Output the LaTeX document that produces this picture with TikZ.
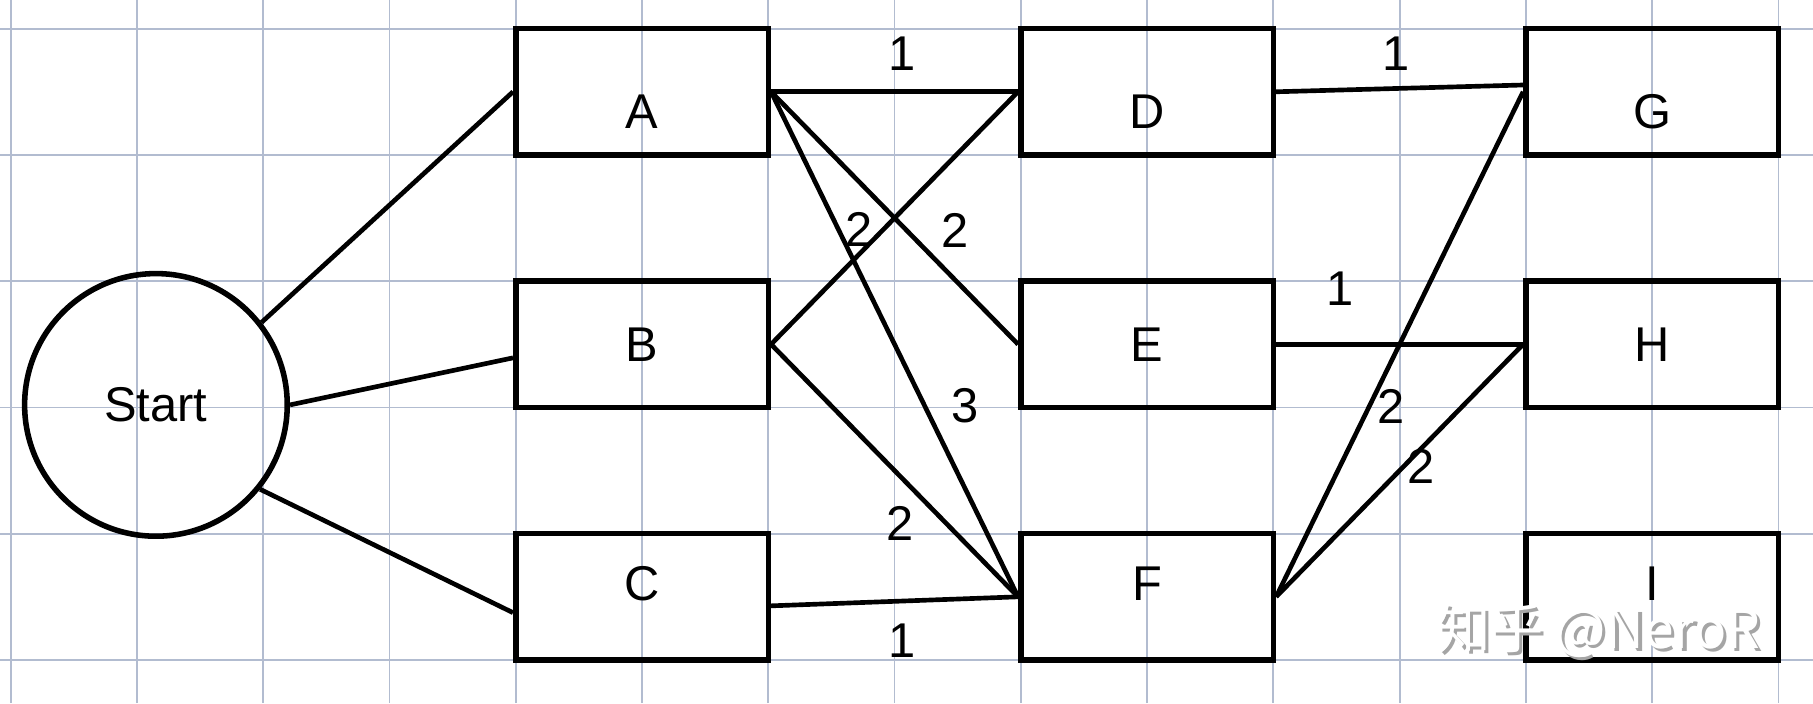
\documentclass[tikz,border=0pt]{standalone}
\usepackage{fontspec}
\setmainfont{Liberation Sans}
\newfontfamily\cjkfont{Noto Sans CJK SC}
\definecolor{gridblue}{RGB}{178,188,208}
\definecolor{markgray}{RGB}{165,165,165}
\begin{document}
\begin{tikzpicture}[
    font=\fontsize{11}{13}\selectfont,
    gridline/.style={gridblue, line width=0.4pt},
    box/.style={draw, line width=1.25pt, minimum width=2cm, minimum height=1cm, inner sep=0pt},
    toprow/.style={box, text height=0.58cm, text depth=0cm},
    midrow/.style={box, text height=0.28cm, text depth=0cm},
    botrow/.style={box, text height=0.28cm, text depth=0.22cm},
    edge/.style={line width=1.05pt},
    weight/.style={inner sep=0pt},
    watermark/.style={anchor=west, inner sep=0pt, font=\cjkfont\fontsize{12}{14}\selectfont}]
    \fill[white] (-0.085,-0.341) rectangle (14.274,5.227);
    \useasboundingbox (-0.085,-0.341) rectangle (14.274,5.227);
    \draw[gridline] (-0.085,-0.341) grid (14.274,5.227);
    \node[circle, draw, line width=1.25pt, minimum size=2.08cm, inner sep=0pt] (start) at (1.15,2.02) {Start};
    \node[toprow] (A) at (5,4.5) {A};
    \node[midrow] (B) at (5,2.5) {B};
    \node[botrow] (C) at (5,0.5) {C};
    \node[toprow] (D) at (9,4.5) {D};
    \node[midrow] (E) at (9,2.5) {E};
    \node[botrow] (F) at (9,0.5) {F};
    \node[toprow] (G) at (13,4.5) {G};
    \node[midrow] (H) at (13,2.5) {H};
    \node[botrow] (I) at (13,0.5) {I};
    \draw[edge] (start.38) -- (A.west);
    \draw[edge] (start.east) -- (B.186);
    \draw[edge] (start.-39) -- (C.187);
    \draw[edge] (A.east) -- (D.west);
    \draw[edge] (A.east) -- (E.west);
    \draw[edge] (A.east) -- (F.west);
    \draw[edge] (B.east) -- (D.west);
    \draw[edge] (B.east) -- (F.west);
    \draw[edge] (C.-4) -- (F.west);
    \draw[edge] (D.east) -- (G.177);
    \draw[edge] (E.east) -- (H.west);
    \draw[edge] (F.east) -- (G.west);
    \draw[edge] (F.east) -- (H.west);
    \node[weight] (wAD) at (7.06,4.80) {1};
    \node[weight] (wBD) at (6.72,3.41) {2};
    \node[weight] (wAE) at (7.48,3.40) {2};
    \node[weight] (wAF) at (7.56,2.01) {3};
    \node[weight] (wBF) at (7.04,1.08) {2};
    \node[weight] (wCF) at (7.06,0.15) {1};
    \node[weight] (wDG) at (10.97,4.80) {1};
    \node[weight] (wEH) at (10.53,2.94) {1};
    \node[weight] (wFG) at (10.93,2.01) {2};
    \node[weight] (wFH) at (11.17,1.53) {2};
    \node[watermark, markgray] (markshadow) at (11.315,0.21) {知乎 @NeroR};
    \node[watermark, white] (markfront) at (11.29,0.23) {知乎 @NeroR};
\end{tikzpicture}
\end{document}
